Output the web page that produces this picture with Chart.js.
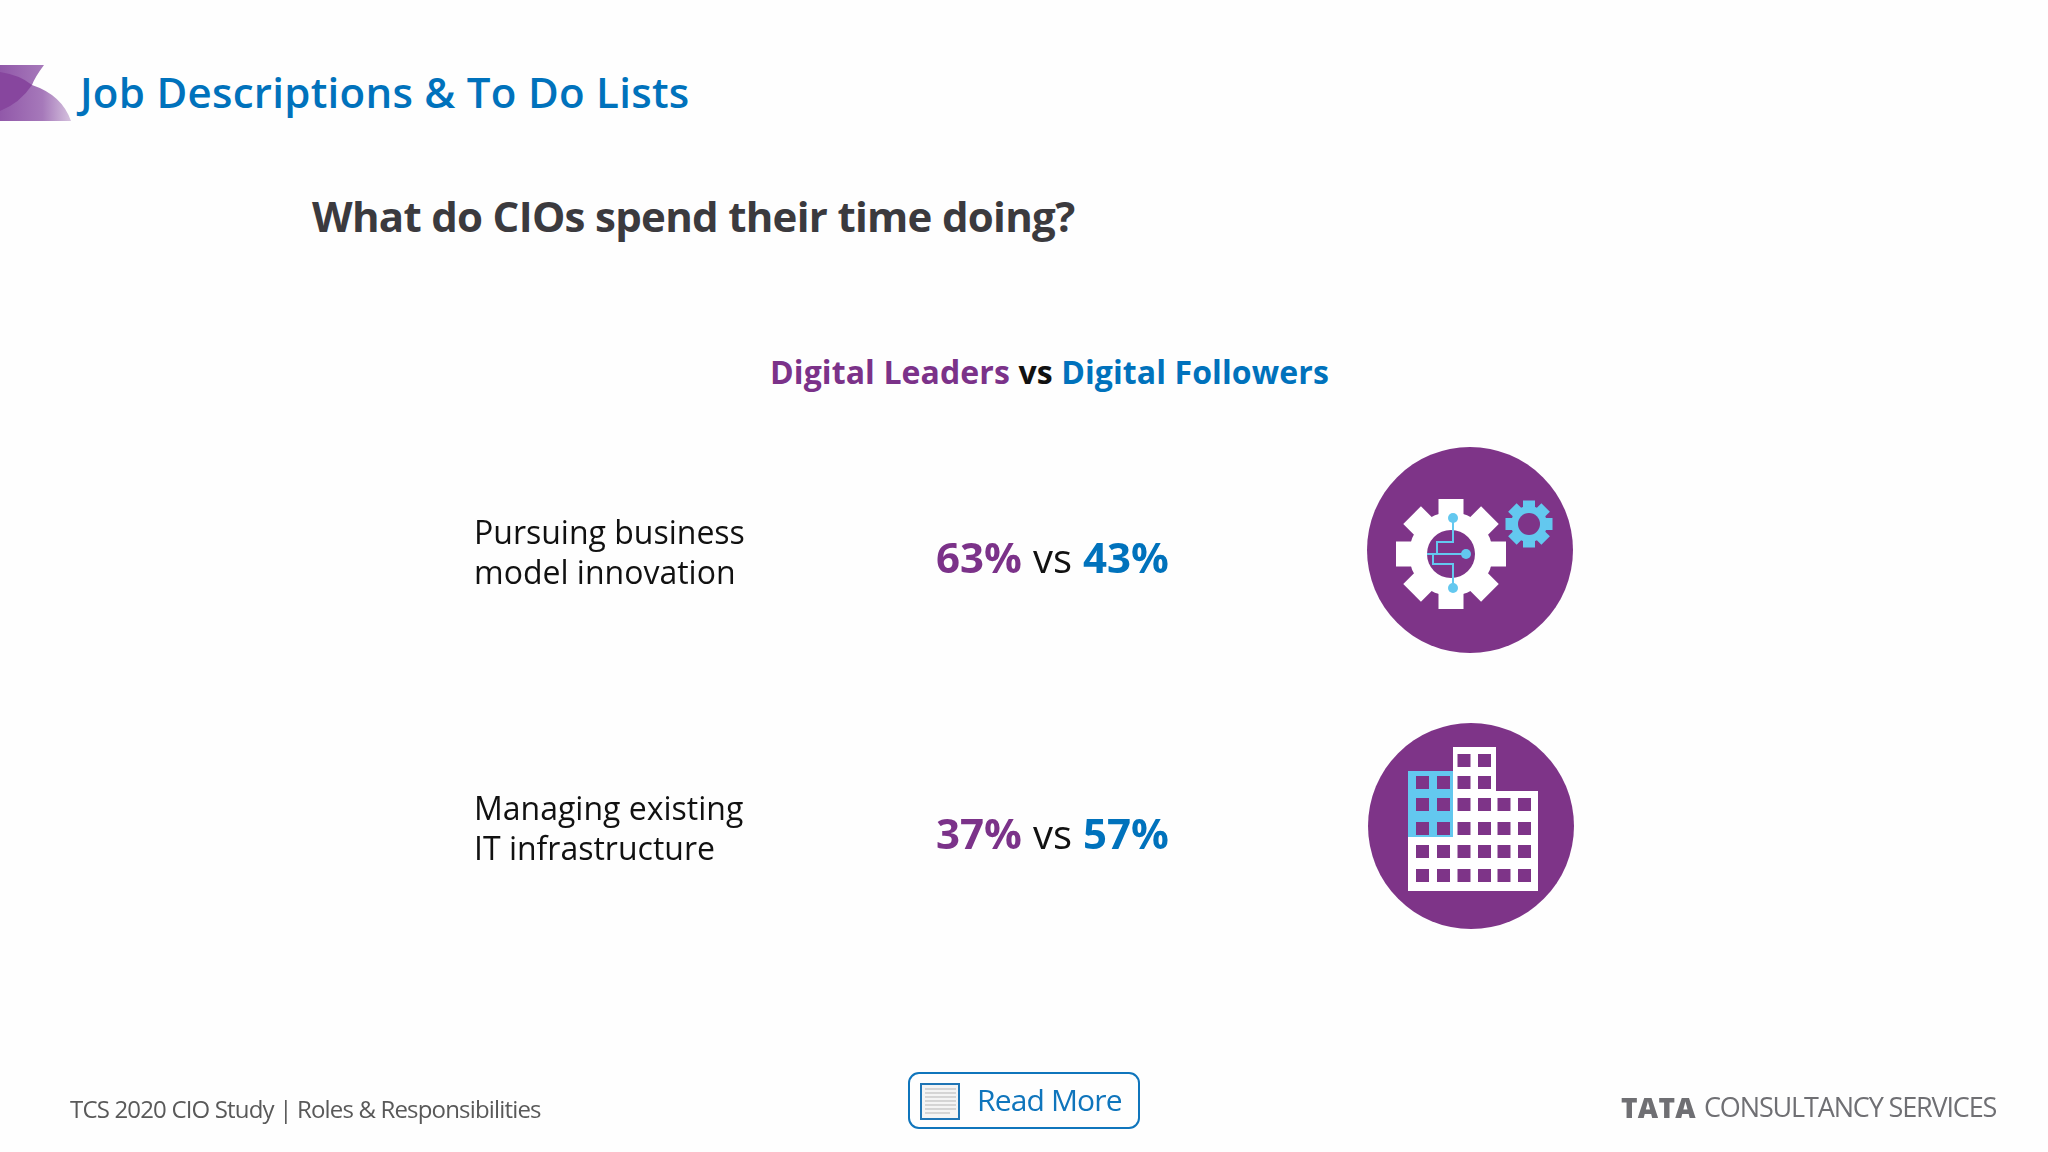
<!DOCTYPE html>
<html>
<head>
<meta charset="utf-8">
<title>What do CIOs spend their time doing?</title>
<script src="https://cdn.jsdelivr.net/npm/chart.js@4"></script>
<style>
  html, body { margin: 0; padding: 0; background: #fefefe; }
  body { width: 2048px; height: 1152px; position: relative; overflow: hidden; font-family: "Open Sans", sans-serif; }
  #chart { position: absolute; left: 0; top: 0; }
  .t { position: absolute; white-space: nowrap; line-height: 1; }
  svg { position: absolute; }
</style>
</head>
<body>

<svg style="left:0;top:65px" width="72" height="57" viewBox="0 0 72 57">
  <defs>
    <linearGradient id="fade" x1="0" x2="1" y1="0" y2="0">
      <stop offset="0" stop-color="#9158a9"/><stop offset="0.6" stop-color="#a679ba"/><stop offset="1" stop-color="#d5c2de"/>
    </linearGradient>
  </defs>
  <path d="M0 0H44Q35 12 32 20Q62 30 71 56H0Z" fill="url(#fade)"/>
  <path d="M0 7Q20 10 32 20Q20 38 0 46Z" fill="#87469e"/>
</svg>

<div class="t" style="left:80px;top:71px;font-size:42px;font-weight:600;color:#0072bc;letter-spacing:0.28px">Job Descriptions &amp; To Do Lists</div>
<div class="t" style="left:312px;top:195px;font-size:42px;font-weight:700;color:#3b3a3e;letter-spacing:-0.7px">What do CIOs spend their time doing?</div>
<div class="t" style="left:770px;top:356px;font-size:32px;font-weight:700;letter-spacing:0.1px">
  <span style="color:#7b3289">Digital Leaders</span> <span style="color:#111">vs</span> <span style="color:#0072bc">Digital Followers</span>
</div>

<canvas id="chart" width="2048" height="1152"></canvas>

<!-- gear icon -->
<svg style="left:1367px;top:447px" width="206" height="206" viewBox="0 0 206 206">
  <circle cx="103" cy="103" r="103" fill="#7e3488"/>
  <g transform="translate(84 107)" fill="#fff">
    <rect x="-12.5" y="-55" width="25" height="110"/>
    <rect x="-12.5" y="-55" width="25" height="110" transform="rotate(45)"/>
    <rect x="-12.5" y="-55" width="25" height="110" transform="rotate(90)"/>
    <rect x="-12.5" y="-55" width="25" height="110" transform="rotate(135)"/>
    <circle r="42"/>
    <circle r="24" fill="#7e3488"/>
  </g>
  <g transform="translate(162 77)" fill="#63c8ef">
    <rect x="-6" y="-23.5" width="12" height="47"/>
    <rect x="-6" y="-23.5" width="12" height="47" transform="rotate(45)"/>
    <rect x="-6" y="-23.5" width="12" height="47" transform="rotate(90)"/>
    <rect x="-6" y="-23.5" width="12" height="47" transform="rotate(135)"/>
    <circle r="18"/>
    <circle r="11" fill="#7e3488"/>
  </g>
  <g fill="none" stroke="#63c8ef" stroke-width="2">
    <path d="M86 71V95H70V107"/>
    <path d="M60 107H99"/>
    <path d="M66 107V117H86V141"/>
  </g>
  <g fill="#63c8ef">
    <circle cx="86" cy="71" r="5"/><circle cx="99" cy="107" r="5"/><circle cx="86" cy="141" r="5"/>
  </g>
</svg>

<!-- building icon -->
<svg style="left:1368px;top:723px" width="206" height="206" viewBox="0 0 206 206">
  <circle cx="103" cy="103" r="103" fill="#7e3488"/>
  <path d="M40 168V48H85V24H128V68H170V168Z" fill="#fff"/>
  <rect x="40" y="48" width="45" height="66" fill="#63c8ef"/>
  <g fill="#7e3488" id="windows"></g>
</svg>

<div class="t" style="left:70px;top:1097px;font-size:24px;color:#595959;letter-spacing:-0.83px">TCS 2020 CIO Study | Roles &amp; Responsibilities</div>

<!-- read more button -->
<div style="position:absolute;left:908px;top:1072px;width:228px;height:53px;border:2px solid #0f75bc;border-radius:11px"></div>
<svg style="left:920px;top:1083px" width="41" height="37" viewBox="0 0 41 37">
  <rect x="1" y="1" width="38" height="35" fill="#f4f4f4" stroke="#1f75b5" stroke-width="2"/>
  <path d="M5 6H36M5 10H36M5 14H36M5 18H36M5 22H36M5 26H36M5 30H30" stroke="#b5b5b5" stroke-width="1"/>
</svg>
<div class="t" style="left:977px;top:1085px;font-size:30px;color:#0f75bc;letter-spacing:-0.85px">Read More</div>

<div class="t" style="left:1621px;top:1093px;font-size:28px;font-weight:800;color:#6f6f73;letter-spacing:0.3px">TATA</div>
<div class="t" style="left:1704px;top:1093px;font-size:27px;font-weight:500;color:#6f6f73;letter-spacing:-1.15px">CONSULTANCY SERVICES</div>

<script>
// values
const categories = [['Pursuing business', 'model innovation'], ['Managing existing', 'IT infrastructure']];
const leaders = [63, 37];
const followers = [43, 57];

const purple = '#7b3289';
const blue = '#0072bc';
const fontFamily = "'Open Sans', sans-serif";

// building windows, the two top rows only exist on the tower and left block
const winGroup = document.getElementById('windows');
const winX = [48, 69, 89.5, 110, 129.5, 150];
const winY = [31, 53, 75, 99, 122, 146];
winY.forEach((y, r) => winX.forEach((x, c) => {
    if (r === 0 && (c < 2 || c > 3)) return;
    if (r === 1 && c > 3) return;
    const rect = document.createElementNS('http://www.w3.org/2000/svg', 'rect');
    rect.setAttribute('x', x);
    rect.setAttribute('y', y);
    rect.setAttribute('width', 13);
    rect.setAttribute('height', 13);
    winGroup.appendChild(rect);
}));

// the percentages are the chart's only visible marks, one line per category
const percentLabels = {
    id: 'percentLabels',
    afterDatasetsDraw(chart) {
        const { ctx, scales } = chart;
        ctx.save();
        ctx.textBaseline = 'alphabetic';
        categories.forEach((_, i) => {
            const y = scales.y.getPixelForValue(i) + 18;
            ctx.textAlign = 'left';
            ctx.font = `700 42px ${fontFamily}`;
            ctx.fillStyle = purple;
            ctx.fillText(chart.data.datasets[0].data[i] + '%', 936, y);
            ctx.fillStyle = blue;
            ctx.fillText(chart.data.datasets[1].data[i] + '%', 1083, y);
            ctx.font = `400 40px ${fontFamily}`;
            ctx.fillStyle = '#111';
            ctx.fillText('vs', 1033, y);
        });
        ctx.restore();
    }
};

new Chart(document.getElementById('chart'), {
    type: 'bar',
    data: {
        labels: categories,
        datasets: [
            { label: 'Digital Leaders', data: leaders, backgroundColor: 'transparent' },
            { label: 'Digital Followers', data: followers, backgroundColor: 'transparent' }
        ]
    },
    options: {
        indexAxis: 'y',
        responsive: false,
        animation: false,
        layout: { padding: { left: 474, top: 417, bottom: 183, right: 400 } },
        plugins: { legend: { display: false }, tooltip: { enabled: false } },
        scales: {
            x: { display: false, min: 0, max: 100 },
            y: {
                grid: { display: false },
                border: { display: false },
                afterFit: scale => { scale.width = 420; },
                ticks: {
                    crossAlign: 'far',
                    padding: 0,
                    color: '#111',
                    font: { family: fontFamily, size: 32, lineHeight: 1.25 }
                }
            }
        }
    },
    plugins: [percentLabels]
});
</script>
</body>
</html>
